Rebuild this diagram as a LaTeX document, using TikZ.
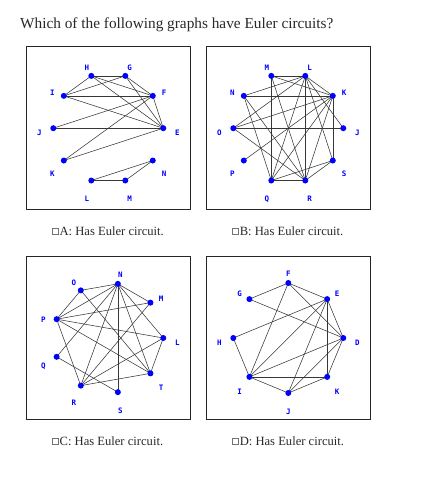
\documentclass[tikz,border=0pt]{standalone}
\usepackage{fontspec}
\setmainfont{Liberation Serif}
\newfontfamily\labfont{DejaVu Sans Mono}
\usetikzlibrary{backgrounds}
\definecolor{nodeblue}{RGB}{0,0,255}
\definecolor{edgegray}{RGB}{55,55,55}
\definecolor{txtgray}{RGB}{40,40,40}
\begin{document}
\begin{tikzpicture}[x=1pt,y=-1pt,
  gdot/.style={circle,fill=nodeblue,inner sep=0pt,minimum size=6pt},
  glab/.style={font=\labfont\bfseries\fontsize{7.5}{8}\selectfont,text=nodeblue,inner sep=0pt},
  gedge/.style={draw=edgegray,line width=0.55pt},
  gframe/.style={draw=black!85,line width=0.9pt},
  gchk/.style={draw=black!55,line width=0.5pt,minimum width=6pt,minimum height=6.5pt,inner sep=0pt},
  captxt/.style={font=\fontsize{12.6}{14}\selectfont,text=txtgray,inner sep=0pt,anchor=base west}]
\useasboundingbox (0,0) rectangle (445,487);

\node[font=\fontsize{15.3}{18}\selectfont,text=txtgray,inner sep=0pt,anchor=base west] (title) at (20,28.3) {Which of the following graphs have Euler circuits?};

% frames
\draw[gframe] (26.3,46.6) rectangle (190.3,209.9);
\draw[gframe] (206.3,46.6) rectangle (370.3,209.9);
\draw[gframe] (26.3,256.3) rectangle (190.3,419.7);
\draw[gframe] (206.3,256.3) rectangle (370.3,419.7);

% Graph A
\begin{scope}[shift={(108.3,128.2)}]
\foreach \n/\a in {E/0,F/36,G/72,H/108,I/144,J/180,K/216,L/252,M/288,N/324}{
  \node[gdot] (a\n) at (\a:55pt) {};
  \node[glab,yshift=-5pt] (la\n) at (\a:69pt) {\n};
}
\end{scope}
\begin{scope}[on background layer]
\foreach \u/\v in {H/G,H/F,H/E,H/I,G/I,G/F,G/E,I/F,I/E,J/F,J/E,K/F,K/E,F/E,L/M,L/N,M/N}
  \draw[gedge] (a\u.center) -- (a\v.center);
\end{scope}

% Graph B
\begin{scope}[shift={(288.3,128.2)}]
\foreach \n/\a in {J/0,K/36,L/72,M/108,N/144,O/180,P/216,Q/252,R/288,S/324}{
  \node[gdot] (b\n) at (\a:55pt) {};
  \node[glab,yshift=-5pt] (lb\n) at (\a:69pt) {\n};
}
\end{scope}
\begin{scope}[on background layer]
\foreach \u/\v in {M/L,M/Q,M/K,M/R,L/N,L/O,L/K,L/J,L/R,L/Q,L/S,N/K,N/R,N/Q,K/O,K/P,K/Q,K/R,K/S,O/J,O/R,S/Q,S/R,Q/R}
  \draw[gedge] (b\u.center) -- (b\v.center);
\end{scope}

% Graph C
\begin{scope}[shift={(108.3,338)}]
\foreach \n/\a in {L/0,M/40,N/80,O/120,P/160,Q/200,R/240,S/280,T/320}{
  \node[gdot] (c\n) at (\a:55pt) {};
  \node[glab,yshift=-5pt] (lc\n) at (\a:69pt) {\n};
}
\end{scope}
\begin{scope}[on background layer]
\foreach \u/\v in {N/O,N/M,N/P,N/S,N/R,N/Q,N/L,N/T,O/P,O/T,M/P,M/R,P/L,P/T,P/R,L/R,L/T,R/T,Q/S}
  \draw[gedge] (c\u.center) -- (c\v.center);
\end{scope}

% Graph D
\begin{scope}[shift={(288.3,338)}]
\foreach \n/\a in {D/0,E/45,F/90,G/135,H/180,I/225,J/270,K/315}{
  \node[gdot] (d\n) at (\a:55pt) {};
  \node[glab,yshift=-5pt] (ld\n) at (\a:69pt) {\n};
}
\end{scope}
\begin{scope}[on background layer]
\foreach \u/\v in {G/F,G/D,F/E,F/I,F/D,E/H,E/I,E/J,E/K,E/D,H/I,I/D,I/K,I/J,J/K,J/D,K/D}
  \draw[gedge] (d\u.center) -- (d\v.center);
\end{scope}

% captions
\node[gchk] (boxA) at (55.5,231) {};
\node[captxt] (capA) at (59.4,235) {A: Has Euler circuit.};
\node[gchk] (boxB) at (235.6,231) {};
\node[captxt] (capB) at (239.6,235) {B: Has Euler circuit.};
\node[gchk] (boxC) at (55.5,441) {};
\node[captxt] (capC) at (59.4,445) {C: Has Euler circuit.};
\node[gchk] (boxD) at (235.6,441) {};
\node[captxt] (capD) at (239.6,445) {D: Has Euler circuit.};
\end{tikzpicture}
\end{document}
